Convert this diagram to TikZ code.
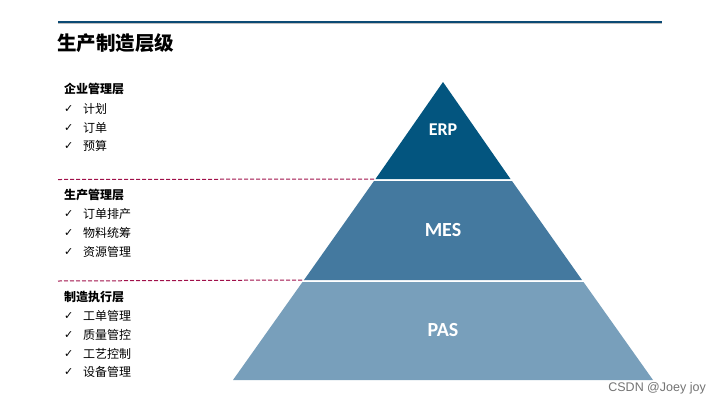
\documentclass[tikz,border=0pt]{standalone}
\usepackage{fontspec}
\newfontfamily\cjk{Noto Sans CJK SC}
\newfontfamily\sym{DejaVu Sans}
\newfontfamily\lat{Carlito}
\newfontfamily\wm{Liberation Sans}
\definecolor{navy}{HTML}{0B4A74}
\definecolor{erpc}{HTML}{03557F}
\definecolor{mesc}{HTML}{44799F}
\definecolor{pasc}{HTML}{789FBB}
\definecolor{dashc}{HTML}{A0104A}
\begin{document}
\begin{tikzpicture}[x=1pt,y=-1pt,
  heading/.style={anchor=west,inner sep=0pt,font=\cjk\bfseries\fontsize{12}{14}\selectfont},
  item/.style={anchor=west,inner sep=0pt,font=\cjk\fontsize{12}{14}\selectfont},
  tick/.style={anchor=west,inner sep=0pt,font=\sym\fontsize{11}{12}\selectfont},
  layer/.style={fill=#1,draw=none},
  lbl/.style={text=white,inner sep=0pt,font=\lat\bfseries\fontsize{#1}{#1}\selectfont},
  sep/.style={draw=dashc,line width=1pt,dash pattern=on 4pt off 2pt}]
\useasboundingbox (0,0) rectangle (720,405);
% top rule with shadow
\coordinate (r1) at (58,21.5);
\coordinate (r2) at (662,21.5);
\draw[line width=1.5pt,black!25] ([yshift=-1.6pt]r1) -- ([yshift=-1.6pt]r2);
\draw[line width=2pt,navy] (r1) -- (r2);
\node[anchor=west,inner sep=0pt,font=\cjk\bfseries\fontsize{19.5}{22}\selectfont] (title) at (57,43) {生产制造层级};
% pyramid
\coordinate (apex) at (443,82);
\coordinate (e1) at (375.5,179);
\coordinate (e2) at (510.5,179);
\coordinate (m1) at (374,181);
\coordinate (m2) at (512,181);
\coordinate (m3) at (304,280);
\coordinate (m4) at (582,280);
\coordinate (p1) at (302.5,282);
\coordinate (p2) at (583.5,282);
\coordinate (p3) at (233,380);
\coordinate (p4) at (653,380);
\fill[layer=erpc] (apex) -- (e2) -- (e1) -- cycle;
\fill[layer=mesc] (m1) -- (m2) -- (m4) -- (m3) -- cycle;
\fill[layer=pasc] (p1) -- (p2) -- (p4) -- (p3) -- cycle;
\node[lbl=18] (erp) at (443,130) {ERP};
\node[lbl=20] (mes) at (443,230) {MES};
\node[lbl=20] (pas) at (443,330) {PAS};
% separators
\coordinate (s1) at (58,179.5);
\coordinate (s2) at (58,281);
\draw[sep] (s1) -- (e1);
\draw[sep] (s2) -- (m3);
% left text
\node[heading] (h1) at (64,89) {企业管理层};
\foreach \t/\y [count=\i] in {计划/109,订单/128,预算/146}{
  \node[tick] (c1\i) at (64,\y) {✓};
  \node[item] (t1\i) at (83,\y) {\t};
}
\node[heading] (h2) at (64,195) {生产管理层};
\foreach \t/\y [count=\i] in {订单排产/214,物料统筹/233,资源管理/252}{
  \node[tick] (c2\i) at (64,\y) {✓};
  \node[item] (t2\i) at (83,\y) {\t};
}
\node[heading] (h3) at (64,297) {制造执行层};
\foreach \t/\y [count=\i] in {工单管理/316,质量管控/335,工艺控制/354,设备管理/372}{
  \node[tick] (c3\i) at (64,\y) {✓};
  \node[item] (t3\i) at (83,\y) {\t};
}
\node[anchor=east,inner sep=0pt,text=black!55,font=\wm\fontsize{12.5}{13}\selectfont] (wm) at (706,388) {CSDN @Joey joy};
\end{tikzpicture}
\end{document}
